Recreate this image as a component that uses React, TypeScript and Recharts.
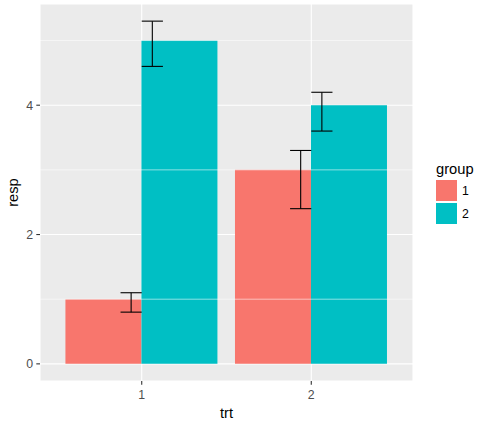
import React from 'react';
import {
  ComposedChart,
  Bar,
  Scatter,
  ErrorBar,
  XAxis,
  YAxis,
  CartesianGrid,
  ReferenceLine,
  Legend,
  Label,
} from 'recharts';

// ---- data ----
const trtLabels = ['1', '2'];
const trtValues = [1, 2];
const groupLabels = ['1', '2'];
const group1Resp = [1, 3];
const group2Resp = [5, 4];
const group1Lower = [0.8, 2.4];
const group1Upper = [1.1, 3.3];
const group2Lower = [4.6, 3.6];
const group2Upper = [5.3, 4.2];
const yMajorTicks = [0, 2, 4];
const yMinorTicks = [1, 3, 5];

// ---- style / layout ----
const COLORS = ['#F8766D', '#00BFC4'];
const CHART_W = 479;
const CHART_H = 424;
const PLOT_LEFT = 40;
const PLOT_RIGHT = 413;
const PLOT_TOP = 4;
const PLOT_BOTTOM = 381;
const PLOT_W = PLOT_RIGHT - PLOT_LEFT;
const X_DOMAIN: [number, number] = [0.4, 2.6];
const Y_DOMAIN: [number, number] = [-0.265, 5.565];
const CAT_PAD = PLOT_W / 22;
const DODGE = 0.125;
const UNIT_PX = PLOT_W / (X_DOMAIN[1] - X_DOMAIN[0]);
const ERR_HALF_PX = (UNIT_PX * DODGE) / 2;
const LEGEND_W = 45;
const FONT = '"Liberation Sans", Arial, sans-serif';
const TICK_FONT = 12.3;

const barData = trtLabels.map((t, i) => ({ trt: t, g1: group1Resp[i], g2: group2Resp[i] }));

const errData = [
  ...trtValues.map((v, i) => ({
    x: v - DODGE / 2,
    resp: group1Resp[i],
    err: [group1Resp[i] - group1Lower[i], group1Upper[i] - group1Resp[i]],
  })),
  ...trtValues.map((v, i) => ({
    x: v + DODGE / 2,
    resp: group2Resp[i],
    err: [group2Resp[i] - group2Lower[i], group2Upper[i] - group2Resp[i]],
  })),
];

const YTitle = (props: any) => {
  const vb = props.viewBox || {};
  const cx = 13;
  const cy = vb.y + vb.height / 2;
  return (
    <text
      x={cx}
      y={cy}
      transform={`rotate(-90 ${cx} ${cy})`}
      textAnchor="middle"
      dominantBaseline="central"
      fontSize={14.7}
      fill="#000"
    >
      resp
    </text>
  );
};

const XTitle = (props: any) => {
  const vb = props.viewBox || {};
  const cx = vb.x + vb.width / 2;
  const cy = vb.y + 32;
  return (
    <text x={cx} y={cy} textAnchor="middle" dominantBaseline="central" fontSize={14.7} fill="#000">
      trt
    </text>
  );
};

const LegendContent = () => (
  <div style={{ fontFamily: FONT, color: '#000' }}>
    <div style={{ fontSize: 14.7, lineHeight: '17px', marginBottom: 2 }}>group</div>
    {groupLabels.map((g, i) => (
      <div key={g} style={{ display: 'flex', alignItems: 'center', height: 21, marginBottom: 2 }}>
        <div style={{ width: 21, height: 21, background: COLORS[i] }} />
        <span style={{ fontSize: TICK_FONT, marginLeft: 5 }}>{g}</span>
      </div>
    ))}
  </div>
);

const EmptyShape = () => <g />;

export default function App() {
  return (
    <div
      style={{
        position: 'absolute',
        left: 0,
        top: 0,
        width: CHART_W,
        height: CHART_H,
        background: '#fff',
        fontFamily: FONT,
      }}
    >
      <ComposedChart
        width={CHART_W}
        height={CHART_H}
        data={barData}
        margin={{ top: PLOT_TOP, right: CHART_W - PLOT_RIGHT - LEGEND_W, bottom: 0, left: 0 }}
        barGap={0}
        barCategoryGap="5%"
      >
        <CartesianGrid
          xAxisId="cat"
          fill="#EBEBEB"
          fillOpacity={1}
          stroke="#FFFFFF"
          strokeWidth={1.1}
        />
        {yMinorTicks.map((v) => (
          <ReferenceLine
            key={v}
            y={v}
            xAxisId="cat"
            stroke="#FFFFFF"
            strokeWidth={0.55}
            ifOverflow="hidden"
          />
        ))}
        <XAxis
          xAxisId="cat"
          dataKey="trt"
          type="category"
          padding={{ left: CAT_PAD, right: CAT_PAD }}
          height={CHART_H - PLOT_BOTTOM}
          axisLine={false}
          tickLine={{ stroke: '#333333', strokeWidth: 1.1 }}
          tickSize={3.7}
          tickMargin={5.3}
          tick={{ fontSize: TICK_FONT, fill: '#4D4D4D' }}
        >
          <Label content={XTitle} />
        </XAxis>
        <XAxis xAxisId="num" dataKey="x" type="number" domain={X_DOMAIN} allowDataOverflow hide />
        <YAxis
          width={PLOT_LEFT}
          domain={Y_DOMAIN}
          allowDataOverflow
          ticks={yMajorTicks}
          axisLine={false}
          tickLine={{ stroke: '#333333', strokeWidth: 1.1 }}
          tickSize={3.7}
          tickMargin={3.3}
          tick={{ fontSize: TICK_FONT, fill: '#4D4D4D' }}
        >
          <Label content={YTitle} />
        </YAxis>
        <Legend
          layout="vertical"
          align="right"
          verticalAlign="middle"
          width={LEGEND_W}
          content={LegendContent}
          wrapperStyle={{ left: 436, top: 161, right: 'auto' }}
        />
        <Bar xAxisId="cat" dataKey="g1" fill={COLORS[0]} isAnimationActive={false} />
        <Bar xAxisId="cat" dataKey="g2" fill={COLORS[1]} isAnimationActive={false} />
        <Scatter
          xAxisId="num"
          data={errData}
          dataKey="resp"
          shape={EmptyShape}
          isAnimationActive={false}
          legendType="none"
        >
          <ErrorBar
            dataKey="err"
            direction="y"
            width={ERR_HALF_PX}
            stroke="#000"
            strokeWidth={1.1}
            isAnimationActive={false}
          />
        </Scatter>
      </ComposedChart>
    </div>
  );
}
